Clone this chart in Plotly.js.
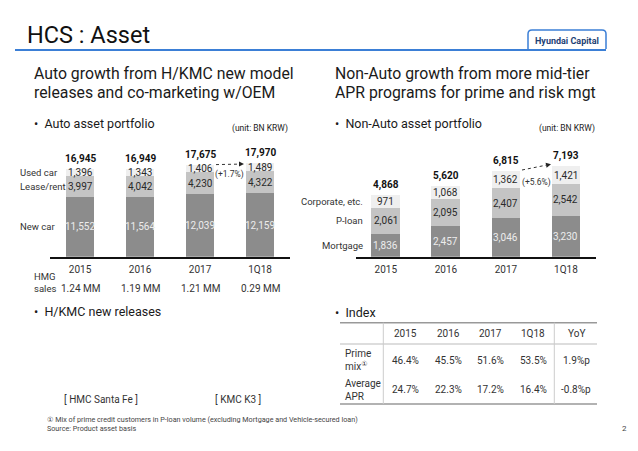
<!DOCTYPE html>
<html>
<head>
<meta charset="utf-8">
<script src="https://cdn.plot.ly/plotly-3.0.1.min.js"></script>
<style>html,body{margin:0;padding:0;background:#fff;}#chart{width:638px;height:451px;}</style>
</head>
<body>
<div id="chart"></div>
<script>
// ---------- DATA ----------
const periods = ['2015', '2016', '2017', '1Q18'];
// Auto asset portfolio (BN KRW)
const autoNewCar = [11552, 11564, 12039, 12159];
const autoLease = [3997, 4042, 4230, 4322];
const autoUsedCar = [1396, 1343, 1406, 1489];
const autoSeriesNames = ['New car', 'Lease/rent', 'Used car'];
const hmgSales = ['1.24 MM', '1.19 MM', '1.21 MM', '0.29 MM'];
const autoGrowth = '(+1.7%)';
// Non-Auto asset portfolio (BN KRW)
const nonMortgage = [1836, 2457, 3046, 3230];
const nonPloan = [2061, 2095, 2407, 2542];
const nonCorporate = [971, 1068, 1362, 1421];
const nonSeriesNames = ['Mortgage', 'P-loan', 'Corporate, etc.'];
const nonGrowth = '(+5.6%)';
// Index table
const indexHeader = ['2015', '2016', '2017', '1Q18', 'YoY'];
const primeMix = ['46.4%', '45.5%', '51.6%', '53.5%', '1.9%p'];
const avgAPR = ['24.7%', '22.3%', '17.2%', '16.4%', '-0.8%p'];
const indexRows = ['Prime<br>mix<sup>①</sup>', 'Average<br>APR'];

// ---------- HELPERS ----------
const W = 638, H = 451;
const px = x => x / W;
const py = y => 1 - y / H;
const FONT = 'Roboto, Noto Sans, DejaVu Sans, Noto Sans CJK SC, sans-serif';
const fmt = v => v.toLocaleString('en-US');
const sum3 = (a, b, c) => a.map((v, i) => v + b[i] + c[i]);

const C_DARK = '#8c8c8c', C_MID = '#c4c4c4', C_LIGHT = '#efefef';
const TXT = '#333';
const baseY = 256.7, topY = 130;

const annotations = [];
const shapes = [];
function txt(x, y, text, size, opts) {
  opts = opts || {};
  const color = opts.color || '#1a1a1a';
  delete opts.color;
  annotations.push(Object.assign({
    xref: 'paper', yref: 'paper', x: px(x), y: py(y), text: text, showarrow: false,
    xanchor: 'left', yanchor: 'middle',
    font: {family: FONT, size: size, color: color}
  }, opts));
}
function arrowHead(x, y, ang) { // small filled triangle pointing along angle (radians)
  const L = 5, Wd = 2.6;
  const bx = x - L * Math.cos(ang), by = y - L * Math.sin(ang);
  const nx = -Math.sin(ang) * Wd, ny = Math.cos(ang) * Wd;
  shapes.push({type: 'path', xref: 'paper', yref: 'paper',
    path: `M ${px(x)},${py(y)} L ${px(bx + nx)},${py(by + ny)} L ${px(bx - nx)},${py(by - ny)} Z`,
    fillcolor: '#222', line: {width: 0}});
}

// ---------- TRACES ----------
function barTrace(xa, ya, vals, color, name) {
  return {type: 'bar', x: periods, y: vals, xaxis: xa, yaxis: ya, name: name,
    marker: {color: color, line: {width: 0}}, hoverinfo: 'skip'};
}
const traces = [
  barTrace('x', 'y', autoNewCar, C_DARK, autoSeriesNames[0]),
  barTrace('x', 'y', autoLease, C_MID, autoSeriesNames[1]),
  barTrace('x', 'y', autoUsedCar, C_LIGHT, autoSeriesNames[2]),
  barTrace('x2', 'y2', nonMortgage, C_DARK, nonSeriesNames[0]),
  barTrace('x2', 'y2', nonPloan, C_MID, nonSeriesNames[1]),
  barTrace('x2', 'y2', nonCorporate, C_LIGHT, nonSeriesNames[2])
];

// segment labels + totals, positioned in data coordinates (category index)
function segLabels(xr, yr, s1, s2, s3) {
  const tot = sum3(s1, s2, s3);
  periods.forEach((p, i) => {
    const segs = [[s1[i], 0, '#ececec'], [s2[i], s1[i], '#2a2a2a'], [s3[i], s1[i] + s2[i], '#2a2a2a']];
    segs.forEach(s => {
      annotations.push({xref: xr, yref: yr, x: i, y: s[1] + s[0] / 2, text: fmt(s[0]),
        showarrow: false, font: {family: FONT, size: 10, color: s[2]}});
    });
    annotations.push({xref: xr, yref: yr, x: i, y: tot[i], yanchor: 'bottom', yshift: 2,
      text: '<b>' + fmt(tot[i]) + '</b>', showarrow: false,
      font: {family: FONT, size: 10, color: '#111'}});
  });
}
segLabels('x', 'y', autoNewCar, autoLease, autoUsedCar);
segLabels('x2', 'y2', nonMortgage, nonPloan, nonCorporate);

// category labels (aligned with first bar's segments)
[autoNewCar[0] / 2, autoNewCar[0] + autoLease[0] / 2, autoNewCar[0] + autoLease[0] + autoUsedCar[0] / 2]
  .forEach((v, k) => {
    annotations.push({xref: 'paper', yref: 'y', x: px(18), y: v, xanchor: 'left',
      text: autoSeriesNames[k], showarrow: false, font: {family: FONT, size: 9.5, color: TXT}});
  });
[nonMortgage[0] / 2, nonMortgage[0] + nonPloan[0] / 2, nonMortgage[0] + nonPloan[0] + nonCorporate[0] / 2]
  .forEach((v, k) => {
    annotations.push({xref: 'paper', yref: 'y2', x: px(365), y: v, xanchor: 'right',
      text: nonSeriesNames[k], showarrow: false, font: {family: FONT, size: 9.5, color: TXT}});
  });

// HMG sales row
txt(32, 276, 'HMG', 9.5, {color: TXT});
txt(32, 288, 'sales', 9.5, {color: TXT});
periods.forEach((p, i) => {
  annotations.push({xref: 'x', yref: 'paper', x: i, y: py(288), text: hmgSales[i], showarrow: false,
    font: {family: FONT, size: 10, color: TXT}});
});

// growth arrows
shapes.push({type: 'line', xref: 'paper', yref: 'paper', x0: px(216), y0: py(164.6), x1: px(240), y1: py(164.1),
  line: {color: '#333', width: 1, dash: 'dot'}});
arrowHead(244, 164, 0);
txt(229.5, 174.5, autoGrowth, 8.5, {xanchor: 'center', color: TXT});

shapes.push({type: 'line', xref: 'paper', yref: 'paper', x0: px(522), y0: py(170), x1: px(546), y1: py(165.2),
  line: {color: '#333', width: 1, dash: 'dot'}});
arrowHead(551, 164.3, Math.atan2(-5.7, 29));
txt(536, 182, nonGrowth, 8.5, {xanchor: 'center', color: TXT});

// ---------- SLIDE TEXT ----------
txt(25, 35, 'HCS : Asset', 23.5, {color: '#111'});
shapes.push({type: 'line', xref: 'paper', yref: 'paper', x0: px(15), x1: px(606), y0: py(50), y1: py(50),
  line: {color: '#3b7fd6', width: 2}});
// logo box
shapes.push({type: 'path', xref: 'paper', yref: 'paper',
  path: `M ${px(528)},${py(49)} L ${px(528)},${py(34)} Q ${px(528)},${py(30)} ${px(532)},${py(30)} L ${px(602)},${py(30)} Q ${px(606)},${py(30)} ${px(606)},${py(34)} L ${px(606)},${py(49)}`,
  line: {color: '#3b7fd6', width: 1.5}});
txt(567, 40.5, '<b>Hyundai Capital</b>', 9, {xanchor: 'center', color: '#1d3f75'});

txt(32, 73, 'Auto growth from H/KMC new model', 15.8);
txt(32, 92, 'releases and co-marketing w/OEM', 15.8);
txt(333, 73, 'Non-Auto growth from more mid-tier', 15.8);
txt(333, 92, 'APR programs for prime and risk mgt', 15.8);

txt(32, 124, '•  Auto asset portfolio', 12.5);
txt(333, 124, '•  Non-Auto asset portfolio', 12.5);
txt(290, 128, '(unit: BN KRW)', 8.5, {xanchor: 'right', color: '#222'});
txt(597, 128, '(unit: BN KRW)', 8.5, {xanchor: 'right', color: '#222'});

txt(32, 311, '•  H/KMC new releases', 12.5);
txt(101, 399, '[ HMC Santa Fe ]', 10, {xanchor: 'center', color: TXT});
txt(237.5, 399, '[ KMC K3 ]', 10, {xanchor: 'center', color: TXT});

txt(333, 312, '•  Index', 12.5);

txt(45, 419, '① Mix of prime credit customers in P-loan volume (excluding Mortgage and Vehicle-secured loan)', 7.2, {color: '#444'});
txt(45, 428, 'Source: Product asset basis', 7.2, {color: '#444'});
txt(624, 428, '2', 8, {xanchor: 'center', color: '#444'});

// ---------- INDEX TABLE ----------
const tL = 340, tR = 597, tTop = 322.7, tHead = 344, tBot = 404;
shapes.push({type: 'line', xref: 'paper', yref: 'paper', x0: px(tL), x1: px(tR), y0: py(tTop), y1: py(tTop), line: {color: '#999', width: 1.5}});
shapes.push({type: 'line', xref: 'paper', yref: 'paper', x0: px(tL), x1: px(tR), y0: py(tHead), y1: py(tHead), line: {color: '#bbb', width: 1}});
shapes.push({type: 'line', xref: 'paper', yref: 'paper', x0: px(tL), x1: px(tR), y0: py(tBot), y1: py(tBot), line: {color: '#999', width: 1.5}});
[383.3, 554.3].forEach(xv => shapes.push({type: 'line', xref: 'paper', yref: 'paper', x0: px(xv), x1: px(xv), y0: py(tTop), y1: py(tBot), line: {color: '#ccc', width: 1}}));
const colX = [405, 448.3, 490.7, 533.3, 576];
indexHeader.forEach((h, i) => txt(colX[i], 333.5, h, 10, {xanchor: 'center', color: TXT}));
[primeMix, avgAPR].forEach((row, r) => {
  const yy = r === 0 ? 360 : 389.5;
  txt(343, yy, indexRows[r], 10, {align: 'left', color: TXT});
  row.forEach((v, i) => txt(colX[i], yy, v, 10, {xanchor: 'center', color: TXT}));
});

// ---------- LAYOUT ----------
const leftR = (baseY - topY) / 0.0052;
const rightR = (baseY - topY) / 0.0126;
const xaxisCommon = {type: 'category', range: [-0.5, 3.5], showline: true, linecolor: '#111', linewidth: 2.5,
  ticks: '', showgrid: false, zeroline: false, fixedrange: true, ticklabelstandoff: 2,
  tickfont: {family: FONT, size: 10, color: TXT}};
const layout = {
  width: W, height: H, margin: {l: 0, r: 0, t: 0, b: 0}, paper_bgcolor: '#fff', plot_bgcolor: 'rgba(0,0,0,0)',
  showlegend: false, barmode: 'stack', bargap: 0.52,
  xaxis: Object.assign({}, xaxisCommon, {domain: [px(50), px(290)], anchor: 'y'}),
  yaxis: {domain: [py(baseY), py(topY)], range: [0, leftR], visible: false, fixedrange: true, anchor: 'x'},
  xaxis2: Object.assign({}, xaxisCommon, {domain: [px(355.8), px(596)], anchor: 'y2'}),
  yaxis2: {domain: [py(baseY), py(topY)], range: [0, rightR], visible: false, fixedrange: true, anchor: 'x2'},
  annotations: annotations, shapes: shapes
};
Plotly.newPlot('chart', traces, layout, {displayModeBar: false, staticPlot: true});
</script>
</body>
</html>
